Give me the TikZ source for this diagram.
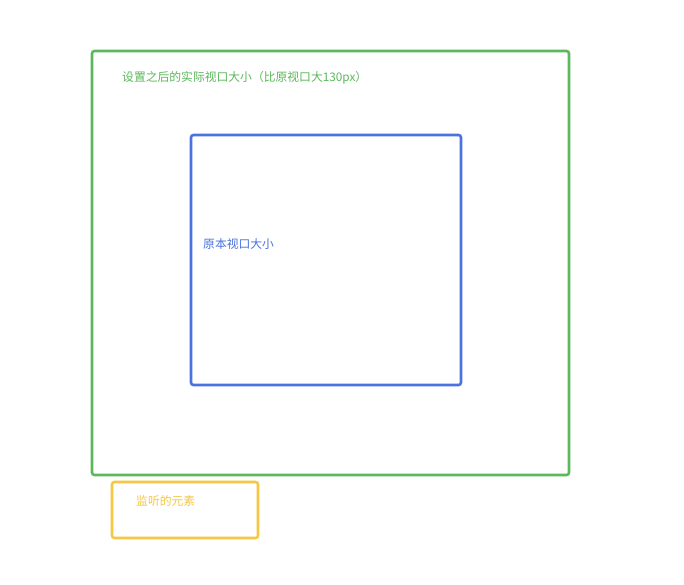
\documentclass[tikz,border=0pt]{standalone}
\usepackage{fontspec}
\newfontfamily\cjk{Noto Sans CJK SC}
\definecolor{vertvue}{HTML}{5CB85C}
\definecolor{bleuvue}{HTML}{4A72E0}
\definecolor{jauneelem}{HTML}{F5C842}
\tikzset{
    cadre/.style={line width=2.6pt,rounded corners=2.5pt},
    etiquette/.style={anchor=west,inner sep=0pt,font=\cjk\fontsize{11.8}{14}\selectfont}
}
\begin{document}
\begin{tikzpicture}[x=1pt,y=-1pt]
    % Zone de dessin
    \useasboundingbox[fill=white] (0,0) rectangle (684,584);

    % Viewport réel apres réglage
    \draw[cadre,vertvue] (92,51) rectangle (569,475);
    \node[etiquette,text=vertvue] (vuereelle) at (122,78) {设置之后的实际视口大小（比原视口大130px）};

    % Viewport d'origine
    \draw[cadre,bleuvue] (191,135) rectangle (461,385);
    \node[etiquette,text=bleuvue] (vueorigine) at (203,244) {原本视口大小};

    % Element observe
    \draw[cadre,jauneelem] (112,482) rectangle (258,538);
    \node[etiquette,text=jauneelem] (element) at (136,501) {监听的元素};
\end{tikzpicture}
\end{document}
